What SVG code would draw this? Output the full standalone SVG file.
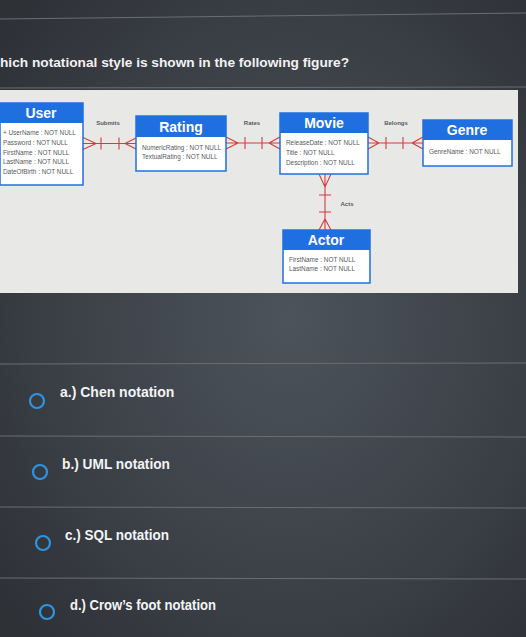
<svg xmlns="http://www.w3.org/2000/svg" width="526" height="637" viewBox="0 0 526 637">
<defs>
<radialGradient id="bg" cx="0.55" cy="0.5" r="0.7">
<stop offset="0" stop-color="#4c535b"/>
<stop offset="0.6" stop-color="#3c4148"/>
<stop offset="1" stop-color="#2e3136"/>
</radialGradient>
<style>
.q{font-family:"Liberation Sans",Arial,sans-serif;font-weight:bold;fill:#f2f2f2}
.opt{font-family:"Liberation Sans",Arial,sans-serif;font-weight:bold;font-size:14px;fill:#f4f4f4}
.radio{fill:none;stroke:#2e94e0;stroke-width:2.2}
.sep{stroke:#6a6e73;stroke-width:1}
.hdr{fill:#1f6fe0}
.box{fill:#ffffff;stroke:#1f6fe0;stroke-width:1.5}
.ttl{font-family:"Liberation Sans",Arial,sans-serif;font-weight:bold;font-size:14px;fill:#ffffff;text-anchor:middle}
.att{font-family:"Liberation Sans",Arial,sans-serif;font-size:6.4px;fill:#555a60}
.rel{font-family:"Liberation Sans",Arial,sans-serif;font-weight:bold;font-size:6px;fill:#555a60;text-anchor:middle}
.ln{stroke:#d63b3b;stroke-width:1.1;fill:none}
</style>
</defs>
<rect x="0" y="0" width="526" height="637" fill="url(#bg)"/>
<line class="sep" x1="0" y1="19" x2="526" y2="13"/>
<line class="sep" x1="0" y1="88" x2="526" y2="87"/>
<text class="q" x="0" y="67" font-size="13.7">hich notational style is shown in the following figure?</text>

<rect x="0" y="90" width="518" height="203" fill="#e8e9e6"/>

<g id="connectors">
<path class="ln" d="M83 143.5H137M83 137.5L96 143.5L83 149.5M101 137.5V149.5M119 137.5V149.5M137 137.5L125 143.5L137 149.5"/>
<path class="ln" d="M226 143H280M226 137L238 143L226 149M245 137V149M262 137V149M280 137L269 143L280 149"/>
<path class="ln" d="M368 143H423M368 137L379 143L368 149M386 137V149M403 137V149M423 137L412 143L423 149"/>
<path class="ln" d="M325 174V230M319 174L325 187L331 174M319 195H331M319 212H331M319 230L325 219L331 230"/>
<text class="rel" x="108" y="125">Submits</text>
<text class="rel" x="252" y="125">Rates</text>
<text class="rel" x="396" y="125">Belongs</text>
<text class="rel" x="347" y="206">Acts</text>
</g>

<g id="user">
<rect class="box" x="0" y="103" width="83" height="82"/>
<rect class="hdr" x="0" y="103" width="83" height="20"/>
<text class="ttl" x="41" y="118">User</text>
<text class="att" x="3" y="135" fill="#3a3f45">+ UserName : NOT NULL</text>
<text class="att" x="3" y="145">Password : NOT NULL</text>
<text class="att" x="3" y="155">FirstName : NOT NULL</text>
<text class="att" x="3" y="164">LastName : NOT NULL</text>
<text class="att" x="3" y="174">DateOfBirth : NOT NULL</text>
</g>

<g id="rating">
<rect class="box" x="136" y="116" width="90" height="55"/>
<rect class="hdr" x="136" y="116" width="90" height="21"/>
<text class="ttl" x="181" y="132">Rating</text>
<text class="att" x="142" y="150">NumericRating : NOT NULL</text>
<text class="att" x="142" y="159">TextualRating : NOT NULL</text>
</g>

<g id="movie">
<rect class="box" x="280" y="113" width="88" height="61"/>
<rect class="hdr" x="280" y="113" width="88" height="20"/>
<text class="ttl" x="324" y="128">Movie</text>
<text class="att" x="286" y="145">ReleaseDate : NOT NULL</text>
<text class="att" x="286" y="155">Title : NOT NULL</text>
<text class="att" x="286" y="165">Description : NOT NULL</text>
</g>

<g id="genre">
<rect class="box" x="423" y="120" width="89" height="46"/>
<rect class="hdr" x="423" y="120" width="89" height="20"/>
<text class="ttl" x="467" y="135">Genre</text>
<text class="att" x="429" y="154">GenreName : NOT NULL</text>
</g>

<g id="actor">
<rect class="box" x="283" y="230" width="87" height="53"/>
<rect class="hdr" x="283" y="230" width="87" height="20"/>
<text class="ttl" x="326" y="245">Actor</text>
<text class="att" x="289" y="262">FirstName : NOT NULL</text>
<text class="att" x="289" y="271">LastName : NOT NULL</text>
</g>

<line class="sep" x1="0" y1="364" x2="526" y2="363"/>
<line class="sep" x1="0" y1="436" x2="526" y2="437"/>
<line class="sep" x1="0" y1="507" x2="526" y2="508"/>
<line class="sep" x1="0" y1="578" x2="526" y2="579"/>

<g id="option-a">
<circle class="radio" cx="37" cy="401" r="7"/>
<text class="opt" x="60" y="397">a.) Chen notation</text>
</g>
<g id="option-b">
<circle class="radio" cx="40" cy="472" r="7"/>
<text class="opt" x="62" y="469" textLength="108" lengthAdjust="spacingAndGlyphs">b.) UML notation</text>
</g>
<g id="option-c">
<circle class="radio" cx="43" cy="543" r="7"/>
<text class="opt" x="65" y="540" textLength="104" lengthAdjust="spacingAndGlyphs">c.) SQL notation</text>
</g>
<g id="option-d">
<circle class="radio" cx="47" cy="612" r="7"/>
<text class="opt" x="70" y="610" textLength="146" lengthAdjust="spacingAndGlyphs">d.) Crow’s foot notation</text>
</g>
</svg>
